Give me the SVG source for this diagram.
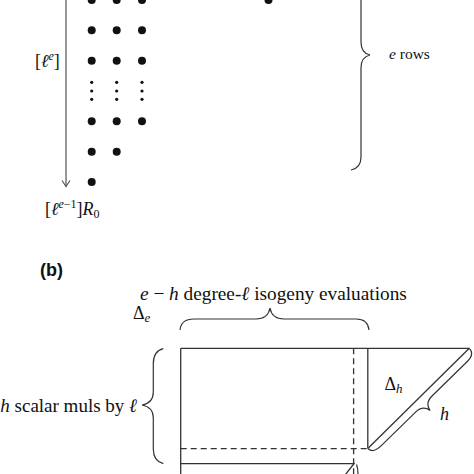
<svg xmlns="http://www.w3.org/2000/svg" width="474" height="474" viewBox="0 0 474 474">
<style>
  .t{font-family:"Liberation Serif","Times New Roman",serif;fill:#111}
  .i{font-style:italic}
  .dot{fill:#111}
  .ln{stroke:#333;stroke-width:1.3;fill:none}
  .dash{stroke:#333;stroke-width:1.3;fill:none;stroke-dasharray:6 4}
  .br{stroke:#333;stroke-width:1.2;fill:none}
  .ar{stroke:#555;stroke-width:1.2;fill:none}
</style>
<rect width="474" height="474" fill="#fff"/>
<g id="part-a">
  <g id="points">
    <circle class="dot" cx="91.7" cy="0" r="4"/><circle class="dot" cx="116.7" cy="0" r="4"/><circle class="dot" cx="142" cy="0" r="4"/>
    <circle class="dot" cx="268.5" cy="0" r="4"/>
    <circle class="dot" cx="91.7" cy="30.3" r="4"/><circle class="dot" cx="116.7" cy="30.3" r="4"/><circle class="dot" cx="142" cy="30.3" r="4"/>
    <circle class="dot" cx="91.7" cy="60.7" r="4"/><circle class="dot" cx="116.7" cy="60.7" r="4"/><circle class="dot" cx="142" cy="60.7" r="4"/>
    <circle class="dot" cx="91.7" cy="82.3" r="1.6"/><circle class="dot" cx="116.7" cy="82.3" r="1.6"/><circle class="dot" cx="142" cy="82.3" r="1.6"/>
    <circle class="dot" cx="91.7" cy="91" r="1.6"/><circle class="dot" cx="116.7" cy="91" r="1.6"/><circle class="dot" cx="142" cy="91" r="1.6"/>
    <circle class="dot" cx="91.7" cy="99.3" r="1.6"/><circle class="dot" cx="116.7" cy="99.3" r="1.6"/><circle class="dot" cx="142" cy="99.3" r="1.6"/>
    <circle class="dot" cx="91.7" cy="121.3" r="4"/><circle class="dot" cx="116.7" cy="121.3" r="4"/><circle class="dot" cx="142" cy="121.3" r="4"/>
    <circle class="dot" cx="91.7" cy="151.7" r="4"/><circle class="dot" cx="116.7" cy="151.7" r="4"/>
    <circle class="dot" cx="91.7" cy="182" r="4"/>
  </g>
  <g id="arrow">
    <line class="ar" x1="66" y1="-10" x2="66" y2="186.5"/>
    <path class="ar" d="M62,180.5 L66,186.5 L70,180.5"/>
  </g>
  <g id="labels-a">
    <text class="t" x="35" y="67" font-size="18">[<tspan class="i">ℓ</tspan><tspan class="i" font-size="12" dy="-7">e</tspan><tspan dy="7">]</tspan></text>
    <text class="t" x="45" y="215" font-size="18">[<tspan class="i">ℓ</tspan><tspan font-size="12" dy="-7"><tspan class="i">e</tspan>−1</tspan><tspan dy="7">]</tspan><tspan class="i">R</tspan><tspan font-size="12" dy="3">0</tspan></text>
    <text class="t" x="389" y="58.5" font-size="15.5"><tspan class="i">e</tspan> rows</text>
  </g>
  <g id="brace-rows">
    <path class="br" d="M351,-60 Q361,-57 361,-45 L361,42 Q361,53 370,55 Q361,57 361,68 L361,157 Q361,168 351,170"/>
  </g>
</g>
<g id="part-b">
  <text x="40" y="276" font-family="Liberation Sans, Arial, sans-serif" font-weight="bold" font-size="18" fill="#111">(b)</text>
  <g id="grid">
    <line class="ln" x1="180.7" y1="348.3" x2="469.3" y2="348.3"/>
    <line class="ln" x1="180.7" y1="348.3" x2="180.7" y2="480"/>
    <line class="ln" x1="367.8" y1="348.3" x2="367.8" y2="448.5"/>
    <line class="ln" x1="469.3" y1="348.3" x2="367.8" y2="448.5"/>
    <line class="dash" x1="353.6" y1="348.3" x2="353.6" y2="480"/>
    <line class="dash" x1="180.7" y1="448.7" x2="367.8" y2="448.7"/>
    <line class="ln" x1="180.7" y1="463.7" x2="353.6" y2="463.7"/>
    <line class="ln" x1="345.5" y1="474.5" x2="354.5" y2="463"/>
    <path class="br" d="M356.5,464.5 Q358,468 358,474.5"/>
  </g>
  <g id="braces-b">
    <path class="br" d="M180,330 Q181,319 194,319 L256,319 Q268,319 270,308 Q272,319 284,319 L356,319 Q368,319 369,330"/>
    <path class="br" d="M163.3,348.7 Q153.3,351 153.3,364 L153.3,392 Q153.3,403 142,405 Q153.3,407 153.3,418 L153.3,449 Q153.3,461 163.3,463.7"/>
    <path class="br" transform="translate(469.3,348.3) rotate(135.6)" d="M0,0 Q0,-8 11,-8 L60,-8 Q70,-8 71.5,-17 Q73,-8 83,-8 L131,-8 Q142.5,-8 142.5,-1"/>
  </g>
  <g id="labels-b">
    <text class="t" x="140" y="300" font-size="19.3"><tspan class="i">e</tspan> − <tspan class="i">h</tspan> degree-<tspan class="i">ℓ</tspan> isogeny evaluations</text>
    <text class="t" x="133" y="318.5" font-size="18">Δ<tspan class="i" font-size="13" dy="3">e</tspan></text>
    <text class="t" x="137" y="412" font-size="19" text-anchor="end"><tspan class="i">h</tspan> scalar muls by <tspan class="i">ℓ</tspan></text>
    <text class="t" x="384.5" y="390" font-size="18">Δ<tspan class="i" font-size="13" dy="3">h</tspan></text>
    <text class="t i" x="440" y="420" font-size="18">h</text>
  </g>
</g>
</svg>
